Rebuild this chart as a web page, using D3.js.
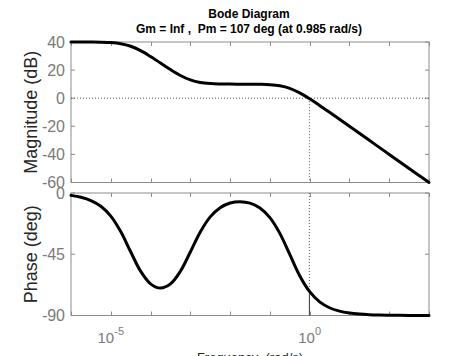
<!DOCTYPE html>
<html>
<head>
<meta charset="utf-8">
<script src="https://cdn.jsdelivr.net/npm/d3@7"></script>
<style>
  html, body { margin: 0; padding: 0; background: #fff; }
  svg { display: block; font-family: "Liberation Sans", Arial, sans-serif; }
  text { white-space: pre; }
</style>
</head>
<body>
<svg id="chart" width="474" height="356"></svg>
<script>
// ---- data ----
const logFreq = [-6,-5.75,-5.5,-5.25,-5,-4.75,-4.5,-4.25,-4,-3.75,-3.5,-3.25,-3,-2.75,-2.5,-2.25,-2,-1.75,-1.5,-1.25,-1,-0.75,-0.5,-0.25,0,0.25,0.5,0.75,1,1.25,1.5,1.75,2,2.25,2.5,2.75,3];
const magnitudeDb = [40.0,39.99,39.96,39.87,39.59,38.81,36.99,33.82,29.63,25.0,20.37,16.18,13.01,11.19,10.41,10.13,10.04,10.0,9.96,9.87,9.59,8.81,6.99,3.81,-0.41,-5.14,-10.04,-15.01,-20.0,-25.0,-30.0,-35.0,-40.0,-45.0,-50.0,-55.0,-60.0];
const phaseDeg = [-1.75,-3.12,-5.53,-9.76,-16.98,-28.33,-43.19,-57.43,-66.74,-69.84,-66.8,-57.53,-43.37,-28.65,-17.55,-10.78,-7.34,-6.34,-7.46,-11.07,-18.1,-29.66,-45.17,-60.75,-72.5,-79.95,-84.31,-86.79,-88.2,-88.98,-89.43,-89.68,-89.82,-89.9,-89.94,-89.97,-89.98];
const magTicks = [40, 20, 0, -20, -40, -60];
const phaseTicks = [0, -45, -90];
const freqTicks = [1e-6,1e-5,1e-4,1e-3,1e-2,1e-1,1e0,1e1,1e2,1e3];
const freqLabels = [{v:1e-5, base:"10", exp:"-5"}, {v:1e0, base:"10", exp:"0"}];
const crossoverFreq = 0.985;
const crossoverPhase = -73;
const titleLines = ["Bode Diagram", "Gm = Inf ,  Pm = 107 deg (at 0.985 rad/s)"];

// ---- layout ----
const svg = d3.select("#chart");
const L = 71, R = 429;
const magTop = 42, magBot = 182.5;
const phTop = 193, phBot = 315.5;

const x = d3.scaleLog().domain([1e-6, 1e3]).range([L, R]);
const yMag = d3.scaleLinear().domain([-60, 40]).range([magBot, magTop]);
const yPh = d3.scaleLinear().domain([-90, 0]).range([phBot, phTop]);

const axisColor = "#8c8c8c";
const tickTextColor = "#7a7a7a";

function drawPanel(y, top, bot, ticks) {
  const g = svg.append("g");
  g.append("rect").attr("x", L).attr("y", top).attr("width", R - L).attr("height", bot - top)
    .attr("fill", "none").attr("stroke", axisColor).attr("stroke-width", 1);
  freqTicks.forEach(f => {
    const px = Math.round(x(f)) + 0.5;
    g.append("line").attr("x1", px).attr("x2", px).attr("y1", bot).attr("y2", bot - 4).attr("stroke", axisColor);
    g.append("line").attr("x1", px).attr("x2", px).attr("y1", top).attr("y2", top + 4).attr("stroke", axisColor);
  });
  ticks.forEach(t => {
    const py = y(t);
    g.append("line").attr("x1", L).attr("x2", L + 4).attr("y1", py).attr("y2", py).attr("stroke", axisColor);
    g.append("line").attr("x1", R).attr("x2", R - 4).attr("y1", py).attr("y2", py).attr("stroke", axisColor);
    g.append("text").attr("x", L - 6).attr("y", py).attr("dy", "0.36em")
      .attr("text-anchor", "end").attr("font-size", 16).attr("fill", tickTextColor)
      .text(t);
  });
  return g;
}

drawPanel(yMag, magTop, magBot, magTicks);
drawPanel(yPh, phTop, phBot, phaseTicks);

// dotted reference lines
const xc = x(crossoverFreq);
svg.append("line").attr("x1", L).attr("x2", R).attr("y1", yMag(0)).attr("y2", yMag(0))
  .attr("stroke", "#555").attr("stroke-width", 1).attr("stroke-dasharray", "1,2");
svg.append("line").attr("x1", xc).attr("x2", xc).attr("y1", yMag(0)).attr("y2", magBot)
  .attr("stroke", "#555").attr("stroke-width", 1).attr("stroke-dasharray", "1,2");
svg.append("line").attr("x1", xc).attr("x2", xc).attr("y1", phTop).attr("y2", yPh(crossoverPhase))
  .attr("stroke", "#555").attr("stroke-width", 1).attr("stroke-dasharray", "1,2");
svg.append("line").attr("x1", xc).attr("x2", xc).attr("y1", yPh(crossoverPhase)).attr("y2", phBot)
  .attr("stroke", "#333").attr("stroke-width", 1);

// curves
const pts = logFreq.map((lf, i) => ({ f: Math.pow(10, lf), m: magnitudeDb[i], p: phaseDeg[i] }));
const magLine = d3.line().x(d => x(d.f)).y(d => yMag(d.m)).curve(d3.curveCatmullRom.alpha(0.5));
const phLine = d3.line().x(d => x(d.f)).y(d => yPh(d.p)).curve(d3.curveCatmullRom.alpha(0.5));
svg.append("path").attr("d", magLine(pts)).attr("fill", "none").attr("stroke", "#000")
  .attr("stroke-width", 3).attr("stroke-linejoin", "round").attr("stroke-linecap", "round");
svg.append("path").attr("d", phLine(pts)).attr("fill", "none").attr("stroke", "#000")
  .attr("stroke-width", 3).attr("stroke-linejoin", "round").attr("stroke-linecap", "round");

// x tick labels
freqLabels.forEach(l => {
  const t = svg.append("text").attr("x", x(l.v)).attr("y", 343).attr("text-anchor", "middle")
    .attr("fill", tickTextColor).attr("font-size", 15);
  t.append("tspan").text(l.base);
  t.append("tspan").attr("dy", -8).attr("font-size", 11).text(l.exp);
});

// axis labels
svg.append("text").attr("transform", `translate(37,${(magTop + magBot) / 2}) rotate(-90)`)
  .attr("text-anchor", "middle").attr("font-size", 18).attr("fill", "#262626").text("Magnitude (dB)");
svg.append("text").attr("transform", `translate(37,${(phTop + phBot) / 2}) rotate(-90)`)
  .attr("text-anchor", "middle").attr("font-size", 18).attr("fill", "#262626").text("Phase (deg)");
svg.append("text").attr("x", (L + R) / 2).attr("y", 362).attr("text-anchor", "middle")
  .attr("font-size", 13).attr("fill", "#262626").text("Frequency  (rad/s)");

// title
svg.append("text").attr("x", 249).attr("y", 18).attr("text-anchor", "middle")
  .attr("font-size", 12).attr("font-weight", "bold").attr("fill", "#000").text(titleLines[0]);
svg.append("text").attr("x", 249).attr("y", 33).attr("text-anchor", "middle")
  .attr("font-size", 12).attr("font-weight", "bold").attr("fill", "#000").text(titleLines[1]);
</script>
</body>
</html>
